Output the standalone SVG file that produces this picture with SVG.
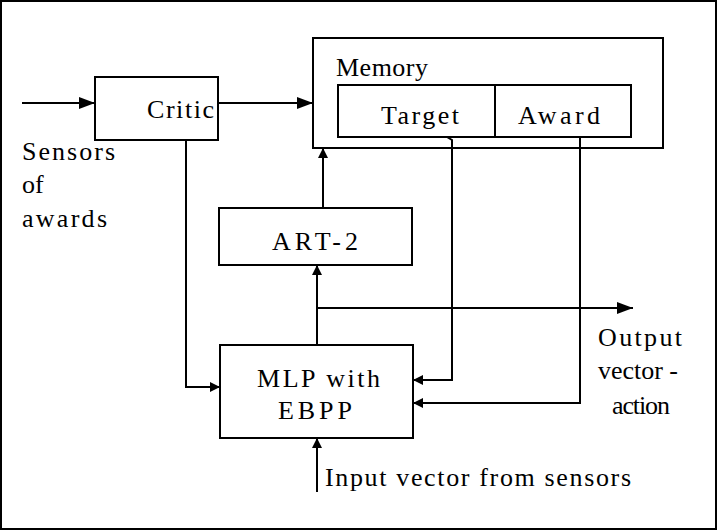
<svg xmlns="http://www.w3.org/2000/svg" width="717" height="530" viewBox="0 0 717 530">
<style>
.b{fill:#fff;stroke:#000;stroke-width:2}
.l{fill:none;stroke:#000;stroke-width:2}
text{font-family:"Liberation Serif","Times New Roman","DejaVu Serif",serif;font-size:26px;fill:#000}
</style>
<defs><marker id="a" viewBox="0 0 10 10" refX="10" refY="5" markerWidth="10" markerHeight="10" markerUnits="userSpaceOnUse" orient="auto"><path d="M0,0L10,5L0,10z"/></marker>
<marker id="a2" viewBox="0 0 16 12" refX="16" refY="6" markerWidth="16" markerHeight="12" markerUnits="userSpaceOnUse" orient="auto"><path d="M0,0L16,6L0,12z"/></marker></defs>
<rect x="1" y="1" width="715" height="528" fill="#fff" stroke="#000" stroke-width="2"/>
<g id="critic"><rect class="b" x="95" y="77" width="123" height="63"/><text x="147" y="118" textLength="67">Critic</text></g>
<g id="memory"><rect class="b" x="313" y="38" width="350" height="110"/><text x="336" y="76" font-size="21" textLength="92">Memory</text>
<rect class="b" x="338" y="85" width="157" height="52"/><text x="381" y="124" textLength="78">Target</text>
<rect class="b" x="495" y="85" width="136" height="52"/><text x="518" y="124" textLength="82">Award</text></g>
<g id="art2"><rect class="b" x="219" y="208" width="193" height="57"/><text x="272" y="250" textLength="86">ART-2</text></g>
<g id="mlp"><rect class="b" x="220" y="345" width="193" height="93"/><text x="257" y="387" textLength="123">MLP with</text><text x="278" y="419" textLength="74">EBPP</text></g>
<g id="labels">
<text x="22" y="160" textLength="93">Sensors</text><text x="22" y="193">of</text><text x="22" y="227" textLength="85">awards</text>
<text x="598" y="346" textLength="84">Output</text><text x="598" y="379" textLength="80">vector  -</text><text x="612" y="414" textLength="58">action</text>
<text x="325" y="486" textLength="306">Input vector from sensors</text></g>
<g id="connectors">
<line class="l" x1="22" y1="103" x2="95" y2="103" marker-end="url(#a2)"/>
<line class="l" x1="218" y1="103" x2="313" y2="103" marker-end="url(#a2)"/>
<line class="l" x1="323" y1="208" x2="323" y2="148" marker-end="url(#a)"/>
<line class="l" x1="317" y1="345" x2="317" y2="265" marker-end="url(#a)"/>
<line class="l" x1="317" y1="308" x2="633" y2="308" marker-end="url(#a2)"/>
<polyline class="l" points="186,140 186,387 220,387" marker-end="url(#a)"/>
<polyline class="l" points="447,137 452,140 452,380 413,380" marker-end="url(#a)"/>
<polyline class="l" points="580,137 580,403 413,403" marker-end="url(#a)"/>
<line class="l" x1="317" y1="492" x2="317" y2="438" marker-end="url(#a)"/>
</g>
</svg>
